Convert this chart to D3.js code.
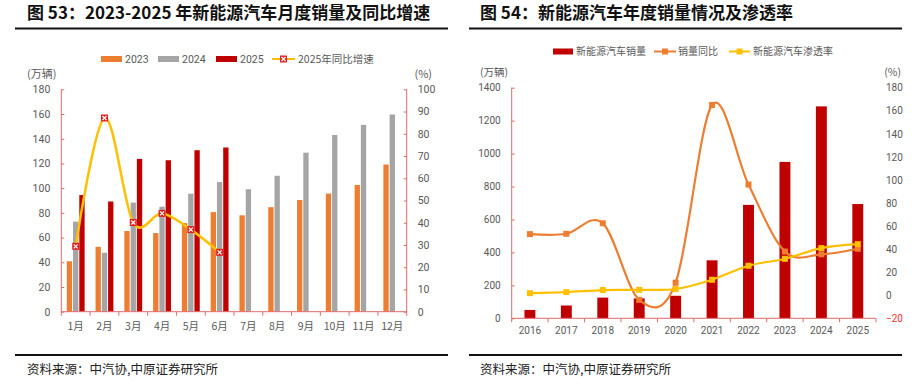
<!DOCTYPE html>
<html><head><meta charset="utf-8">
<script src="https://cdn.jsdelivr.net/npm/d3@7"></script>
<style>
body{margin:0;background:#fff;}
svg{display:block;}
text{font-family:"Noto Sans CJK SC","Noto Sans",sans-serif;}
.num{font-family:"Roboto","Noto Sans",sans-serif;}
</style></head>
<body><svg id="c" width="913" height="383"></svg>
<script>
// ---- Data: left chart ----
const months = ["1月","2月","3月","4月","5月","6月","7月","8月","9月","10月","11月","12月"];
const sales2023 = [40.8,52.5,65.3,63.6,71.7,80.6,78.0,84.6,90.4,95.6,102.6,119.1];
const sales2024 = [72.9,47.7,88.3,85.0,95.5,104.9,99.1,110.0,128.7,143.0,151.2,159.6];
const sales2025 = [94.4,89.2,123.7,122.6,130.7,132.9];
const yoy2025 = [29.4,87.1,40.1,44.2,36.9,26.7];
const leftTicksL = [0,20,40,60,80,100,120,140,160,180];
const leftTicksR = [0,10,20,30,40,50,60,70,80,90,100];
// ---- Data: right chart ----
const years = ["2016","2017","2018","2019","2020","2021","2022","2023","2024","2025"];
const annualSales = [50.7,77.7,125.6,120.6,136.7,352.1,688.7,949.5,1286.6,693.7];
const annualYoy = [53.0,53.3,62.4,-4.0,10.9,165.0,96.0,37.9,35.5,40.3];
const penetration = [1.8,2.7,4.5,4.7,5.4,13.4,25.6,31.6,40.9,44.3];
const rightTicksL = [0,200,400,600,800,1000,1200,1400];
const rightTicksR = [-20,0,20,40,60,80,100,120,140,160,180];

const C = {orange:"#ed7d31", gray:"#a5a5a5", red:"#c00000", yellow:"#ffc000", axis:"#e46a6a", label:"#595959"};
const svg = d3.select("#c");

function titleBlock(x0, x1, tx, title){
  svg.append("text").attr("x",tx).attr("y",19).attr("font-size",17).attr("font-weight","bold")
    .attr("fill","#111").text(title);
  svg.append("line").attr("x1",x0).attr("x2",x1).attr("y1",28.5).attr("y2",28.5).attr("stroke","#111").attr("stroke-width",2);
  svg.append("line").attr("x1",x0).attr("x2",x1).attr("y1",355).attr("y2",355).attr("stroke","#111").attr("stroke-width",2);
  svg.append("text").attr("x",tx).attr("y",374).attr("font-size",12.5).attr("fill","#222").text("资料来源：中汽协,中原证券研究所");
}
titleBlock(15,448,27,"图 53：2023-2025 年新能源汽车月度销量及同比增速");
titleBlock(469,902,480,"图 54：新能源汽车年度销量情况及渗透率");

function marker(g, x, y, type, color){
  if(type==="x"){
    g.append("rect").attr("x",x-3.5).attr("y",y-3.5).attr("width",7).attr("height",7).attr("fill","#e02020");
    g.append("path").attr("d",`M${x-2},${y-2}L${x+2},${y+2}M${x-2},${y+2}L${x+2},${y-2}`).attr("stroke","#fff").attr("stroke-width",1.2);
  } else {
    g.append("rect").attr("x",x-3).attr("y",y-3).attr("width",6).attr("height",6).attr("fill",color);
  }
}

// ================= LEFT CHART =================
{
  const L = {x0:61.3, x1:406.7, yT:89.3, yB:311.7};
  const g = svg.append("g");
  const x = d3.scaleBand().domain(months).range([L.x0,L.x1]).paddingInner(0.38).paddingOuter(0.19);
  const xs = d3.scaleBand().domain(["2023","2024","2025"]).range([0,x.bandwidth()]).paddingInner(0.15);
  const y = d3.scaleLinear().domain([0,180]).range([L.yB,L.yT]);
  const y2 = d3.scaleLinear().domain([0,100]).range([L.yB,L.yT]);
  const step = (L.x1-L.x0)/months.length;

  const series = [["2023",sales2023,C.orange],["2024",sales2024,C.gray],["2025",sales2025,C.red]];
  series.forEach(([k,vals,col])=>{
    g.selectAll(null).data(vals).enter().append("rect")
      .attr("x",(d,i)=>x(months[i])+xs(k)).attr("width",xs.bandwidth())
      .attr("y",d=>y(d)).attr("height",d=>L.yB-y(d)).attr("fill",col);
  });

  const ay = d3.axisLeft(y).tickValues(leftTicksL).tickSize(-3).tickPadding(11).tickFormat(d3.format("d"));
  const gy = g.append("g").attr("transform",`translate(${L.x0},0)`).call(ay);
  const ay2 = d3.axisRight(y2).tickValues(leftTicksR).tickSize(-3).tickPadding(11).tickFormat(d3.format("d"));
  const gy2 = g.append("g").attr("transform",`translate(${L.x1},0)`).call(ay2);
  [gy,gy2].forEach(a=>{
    a.select(".domain").attr("stroke",C.axis).attr("d",`M0,${L.yT}V${L.yB}`);
    a.selectAll(".tick line").attr("stroke",C.axis);
    a.selectAll(".tick text").attr("class","num").attr("fill",C.label).attr("font-size",10.5);
  });
  g.append("line").attr("x1",L.x0).attr("x2",L.x1).attr("y1",L.yB).attr("y2",L.yB).attr("stroke",C.axis);
  d3.range(months.length+1).forEach(i=>{
    g.append("line").attr("x1",L.x0+i*step).attr("x2",L.x0+i*step).attr("y1",L.yB).attr("y2",L.yB+4).attr("stroke",C.axis);
  });
  g.selectAll(null).data(months).enter().append("text")
    .attr("x",d=>x(d)+x.bandwidth()/2).attr("y",L.yB+18).attr("text-anchor","middle")
    .attr("font-size",10.5).attr("fill",C.label).text(d=>d);

  const pts = yoy2025.map((v,i)=>[x(months[i])+x.bandwidth()/2, y2(v)]);
  g.append("path").attr("d",d3.line().curve(d3.curveCardinal)(pts)).attr("fill","none")
    .attr("stroke",C.yellow).attr("stroke-width",2.5);
  pts.forEach(p=>marker(g,p[0],p[1],"x"));

  g.append("text").attr("x",27).attr("y",78).attr("font-size",11).attr("fill",C.label).text("(万辆)");
  g.append("text").attr("x",432).attr("y",78).attr("text-anchor","end").attr("font-size",11).attr("fill",C.label).text("(%)");

  const ly = 59;
  const leg = [["2023",C.orange,101],["2024",C.gray,158],["2025",C.red,216]];
  leg.forEach(([t,c,lx])=>{
    g.append("rect").attr("x",lx).attr("y",ly-3).attr("width",21).attr("height",6).attr("fill",c);
    g.append("text").attr("class","num").attr("x",lx+24).attr("y",ly+3.8).attr("font-size",10.5).attr("fill",C.label).text(t);
  });
  g.append("line").attr("x1",272).attr("x2",295).attr("y1",ly).attr("y2",ly).attr("stroke",C.yellow).attr("stroke-width",2);
  marker(g,283.5,ly,"x");
  g.append("text").attr("x",298).attr("y",ly+3.8).attr("font-size",10.5).attr("fill",C.label).text("2025年同比增速");
}

// ================= RIGHT CHART =================
{
  const R = {x0:511.7, x1:876, yT:87.7, yB:318.3};
  const g = svg.append("g");
  const x = d3.scaleBand().domain(years).range([R.x0,R.x1]).paddingInner(0.7).paddingOuter(0.35);
  const y = d3.scaleLinear().domain([0,1400]).range([R.yB,R.yT]);
  const y2 = d3.scaleLinear().domain([-20,180]).range([R.yB,R.yT]);
  const step = (R.x1-R.x0)/years.length;

  g.selectAll(null).data(annualSales).enter().append("rect")
    .attr("x",(d,i)=>x(years[i])).attr("width",x.bandwidth())
    .attr("y",d=>y(d)).attr("height",d=>R.yB-y(d)).attr("fill",C.red);

  const ay = d3.axisLeft(y).tickValues(rightTicksL).tickSize(-3).tickPadding(11).tickFormat(d3.format("d"));
  const gy = g.append("g").attr("transform",`translate(${R.x0},0)`).call(ay);
  gy.select(".domain").attr("stroke",C.axis).attr("d",`M0,${R.yT}V${R.yB}`);
  gy.selectAll(".tick line").attr("stroke",C.axis);
  gy.selectAll(".tick text").attr("class","num").attr("fill",C.label).attr("font-size",10);
  const ay2 = d3.axisRight(y2).tickValues(rightTicksR).tickSize(0).tickPadding(10).tickFormat(d3.format("d"));
  const gy2 = g.append("g").attr("transform",`translate(${R.x1},0)`).call(ay2);
  gy2.select(".domain").remove();
  gy2.selectAll(".tick text").attr("class","num").attr("fill",d=>d<0?"#ff3030":C.label).attr("font-size",10);

  g.append("line").attr("x1",R.x0).attr("x2",R.x1).attr("y1",R.yB).attr("y2",R.yB).attr("stroke",C.axis);
  d3.range(years.length+1).forEach(i=>{
    g.append("line").attr("x1",R.x0+i*step).attr("x2",R.x0+i*step).attr("y1",R.yB).attr("y2",R.yB+4).attr("stroke",C.axis);
  });
  g.selectAll(null).data(years).enter().append("text").attr("class","num")
    .attr("x",d=>x(d)+x.bandwidth()/2).attr("y",R.yB+16).attr("text-anchor","middle")
    .attr("font-size",10).attr("fill",C.label).text(d=>d);

  const lineGen = d3.line().curve(d3.curveCardinal);
  const p1 = annualYoy.map((v,i)=>[x(years[i])+x.bandwidth()/2, y2(v)]);
  const p2 = penetration.map((v,i)=>[x(years[i])+x.bandwidth()/2, y2(v)]);
  g.append("path").attr("d",lineGen(p1)).attr("fill","none").attr("stroke",C.orange).attr("stroke-width",2.2);
  p1.forEach(p=>marker(g,p[0],p[1],"sq",C.orange));
  g.append("path").attr("d",lineGen(p2)).attr("fill","none").attr("stroke",C.yellow).attr("stroke-width",2.2);
  p2.forEach(p=>marker(g,p[0],p[1],"sq",C.yellow));

  g.append("text").attr("x",480).attr("y",76).attr("font-size",10.5).attr("fill",C.label).text("(万辆)");
  g.append("text").attr("x",901).attr("y",76).attr("text-anchor","end").attr("font-size",10.5).attr("fill",C.label).text("(%)");

  const ly = 51.5;
  g.append("rect").attr("x",553).attr("y",ly-3).attr("width",20).attr("height",6).attr("fill",C.red);
  g.append("text").attr("x",576).attr("y",ly+3.5).attr("font-size",10).attr("fill",C.label).text("新能源汽车销量");
  g.append("line").attr("x1",654).attr("x2",676).attr("y1",ly).attr("y2",ly).attr("stroke",C.orange).attr("stroke-width",2);
  marker(g,665,ly,"sq",C.orange);
  g.append("text").attr("x",678).attr("y",ly+3.5).attr("font-size",10).attr("fill",C.label).text("销量同比");
  g.append("line").attr("x1",729).attr("x2",750).attr("y1",ly).attr("y2",ly).attr("stroke",C.yellow).attr("stroke-width",2);
  marker(g,739.5,ly,"sq",C.yellow);
  g.append("text").attr("x",753).attr("y",ly+3.5).attr("font-size",10).attr("fill",C.label).text("新能源汽车渗透率");
}
</script></body></html>
